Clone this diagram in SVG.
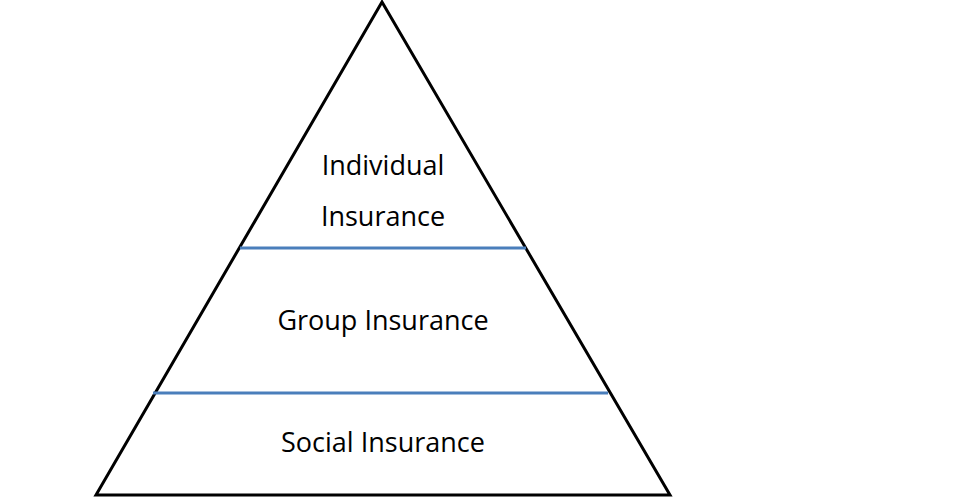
<svg xmlns="http://www.w3.org/2000/svg" width="960" height="499" viewBox="0 0 960 499">
<style>
.t{font-family:"Open Sans","Liberation Sans",sans-serif;font-size:27px;fill:#000;text-anchor:middle}
.d{stroke:#4a7ebb;stroke-width:3}
</style>
<rect width="960" height="499" fill="#fff"/>
<g id="pyramid"><polygon points="382,2 96,495 670,495" fill="none" stroke="#000" stroke-width="3"/></g>
<g id="connectors">
<line class="d" x1="240" y1="248" x2="526" y2="248"/>
<line class="d" x1="153" y1="393" x2="608" y2="393"/>
</g>
<g id="individual"><text class="t" x="383" y="175">Individual</text><text class="t" x="383" y="226">Insurance</text></g>
<g id="group"><text class="t" x="383" y="330">Group Insurance</text></g>
<g id="social"><text class="t" x="383" y="452">Social Insurance</text></g>
</svg>
